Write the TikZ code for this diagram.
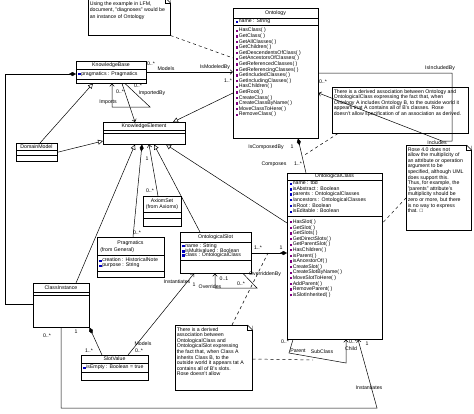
\documentclass[tikz,border=0pt]{standalone}
\usepackage{fontspec}
\setmainfont{Liberation Sans}
\usepackage{tikz}
\usetikzlibrary{arrows.meta,calc}
\newcommand{\attrcolor}{blue!75!black}
\newcommand{\opcolor}{violet}
\newcommand{\fs}{\fontsize{5.2}{5.6}\selectfont}
\newcommand{\attricon}{\textcolor{\attrcolor}{\rule{2.3pt}{2.3pt}}\hspace{0.7pt}}
\newcommand{\opicon}{\textcolor{\opcolor}{\rule{2.3pt}{2.3pt}}\hspace{0.7pt}}
\newcommand{\compline}[2]{\draw (#1.west |- 0,#2) -- (#1.east |- 0,#2);}
\newcommand{\fold}[1]{%
\fill[white] ([xshift=-5pt]#1.north east) -- ([xshift=0.3pt,yshift=0.3pt]#1.north east) -- ([yshift=-5pt]#1.north east) -- cycle;
\draw ([xshift=-5pt]#1.north east) -- ([xshift=-5pt,yshift=-5pt]#1.north east) -- ([yshift=-5pt]#1.north east);
\draw ([xshift=-5pt]#1.north east) -- ([yshift=-5pt]#1.north east);}

\begin{document}
\begin{tikzpicture}[x=1pt,y=-1pt,line width=0.5pt,
  every node/.style={font=\fs},
  umlclass/.style={draw,anchor=north west,inner sep=0pt,fill=white},
  notebox/.style={draw,anchor=north west,inner sep=0pt,fill=white},
  notetext/.style={anchor=north west,inner sep=0pt,align=left},
  row/.style={anchor=west,inner sep=0pt},
  mult/.style={inner sep=0pt},
  gen/.style={-{Triangle[open,length=5pt,width=5pt]}},
  nav/.style={-{Straight Barb[length=2.5pt,width=4.5pt]}},
  comp/.style={{Diamond[length=7pt,width=4pt]}-}]
\useasboundingbox (0,0) rectangle (474,413);

%notes
\node[notebox,minimum width=82pt,minimum height=37pt] (tlnote) at (88,-2) {};
\node[notetext] (tlnotetext) at (89.5,1.5) {Using the example in LFM,\\[0.8pt]document, "diagnoses" would be\\[0.8pt]an instance of Ontology};
\fold{tlnote}
\node[notebox,minimum width=136pt,minimum height=46pt] (mnote) at (332,87) {};
\node[notetext] (mnotetext) at (333.5,89) {There is a derived association between Ontology and\\OntologicalClass expressing the fact that, when\\Ontology A includes Ontology B, to the outside world it\\appears that A contains all of B's classes. Rose\\doesn't allow specification of an association as derived.};
\node[notebox,minimum width=65pt,minimum height=85pt] (rnote) at (406,145) {};
\node[notetext] (rnotetext) at (407.5,147) {Rose 4.0 does not\\allow the multiplicity of\\an attribute or operation\\argument to be\\specified, although UML\\does support this.\\Thus, for example, the\\"parents" attribute's\\multiplicity should be\\zero or more, but there\\is no way to express\\that. □};
\fold{rnote}
\node[notebox,minimum width=77pt,minimum height=65pt] (bnote) at (175,325) {};
\node[notetext] (bnotetext) at (176.5,327) {There is a derived\\association between\\OntologicalClass and\\OntologicalSlot expressing\\the fact that, when Class A\\inherits Class B, to the\\outside world it appears tat A\\contains all of B's slots.\\Rose doesn't allow};
\fold{bnote}

%Ontology
\node[umlclass,minimum width=85pt,minimum height=130pt] (ontology) at (233,8) {};
\node (ontologyname) at (275.5,13) {Ontology};
\compline{ontology}{18}
\compline{ontology}{25}
\node[row] (ontologyattr) at (235.5,21.5) {\attricon name : String};
\foreach \t [count=\i] in {HasClass( ),GetClass( ),GetAllClasses( ),GetChildren( ),GetDescendentsOfClass( ),GetAncestorsOfClasses( ),GetReferencedClasses( ),GetReferencingClasses( ),GetIncludedClasses( ),GetIncludingClasses( ),HasChildren( ),GetRoot( ),CreateClass( ),CreateClassByName( ),MoveClassToHere( ),RemoveClass( )}
  \node[row] (ontologyop\i) at (235.5,25+5.6*\i) {\opicon\t};

%KnowledgeBase
\node[umlclass,minimum width=70pt,minimum height=22pt] (kb) at (76,61) {};
\node (kbname) at (111,65) {KnowledgeBase};
\compline{kb}{69}
\compline{kb}{79}
\node[row] (kbattr) at (78,74) {\attricon pragmatics : Pragmatics};

%DomainModel
\node[umlclass,minimum width=41pt,minimum height=18pt] (dm) at (16,143) {};
\node (dmname) at (36.5,146.5) {DomainModel};
\compline{dm}{150}
\compline{dm}{155}

%KnowledgeElement
\node[umlclass,minimum width=82pt,minimum height=22pt] (ke) at (103,122) {};
\node (kename) at (144,126) {KnowledgeElement};
\compline{ke}{130}
\compline{ke}{133}

%AxiomSet
\node[umlclass,minimum width=38pt,minimum height=30pt] (as) at (143,196) {};
\node (asname) at (162,201) {AxiomSet};
\node (asfrom) at (162,207) {(from Axioms)};
\compline{as}{212}
\compline{as}{218}

%Pragmatics
\node[umlclass,minimum width=67pt,minimum height=40pt] (pr) at (97,237) {};
\node (prname) at (130.5,243) {Pragmatics};
\node[row] (prfrom) at (100,250) {(from General)};
\compline{pr}{255}
\compline{pr}{271}
\node[row] (prattr1) at (99,260) {\attricon creation : HistoricalNote};
\node[row] (prattr2) at (99,265.5) {\attricon purpose : String};

%OntologicalSlot
\node[umlclass,minimum width=71pt,minimum height=41pt] (os) at (180,232) {};
\node (osname) at (215.5,237) {OntologicalSlot};
\compline{os}{242}
\compline{os}{260}
\foreach \t [count=\i] in {name : String,isMultivalued : Boolean,class : OntologicalClass}
  \node[row] (osattr\i) at (182,241.5+4.6*\i) {\attricon\t};

%OntologicalClass
\node[umlclass,minimum width=95pt,minimum height=166pt] (oc) at (287,173) {};
\node (ocname) at (334.5,176.5) {OntologicalClass};
\compline{oc}{180}
\compline{oc}{216}
\foreach \t [count=\i] in {name : tbd,isAbstract : Boolean,parents : OntologicalClasses,/ancestors : OntologicalClasses,isRoot : Boolean,isEditable : Boolean}
  \node[row] (ocattr\i) at (289.5,177.5+5.6*\i) {\attricon\t};
\foreach \t [count=\i] in {HasSlot( ),GetSlot( ),GetSlots( ),GetDirectSlots( ),GetParentSlot( ),HasChildren( ),isParent( ),isAncestorOf( ),CreateSlot( ),CreateSlotByName( ),MoveSlotToHere( ),AddParent( ),RemoveParent( ),isSlotInherited( )}
  \node[row] (ocop\i) at (289.5,216.5+5.6*\i) {\opicon\t};

%ClassInstance
\node[umlclass,minimum width=56pt,minimum height=44pt] (ci) at (33,283) {};
\node (ciname) at (61,287.5) {ClassInstance};
\compline{ci}{292}
\compline{ci}{295}

%SlotValue
\node[umlclass,minimum width=67pt,minimum height=25pt] (sv) at (81,355) {};
\node (svname) at (114.5,359) {SlotValue};
\compline{sv}{363}
\compline{sv}{372}
\node[row] (svattr) at (83,367.5) {\attricon isEmpty : Boolean = true};

%connectors
\draw[dashed] (tlnote.south east) -- (ontology.west |- 0,58);
\draw[comp] (kb.west |- 0,74) -- (5,74) -- (5,304) -- (ci.west |- 0,304);
\draw[nav] (kb.east |- 0,72) -- (ontology.west |- 0,72);
\draw[nav] (kb.south -| 125,0) -- (150,107) -- (112,107) -- (kb.south -| 112,0);
\draw[nav] (kb.south -| 122,0) -- (ke.north -| 135,0);
\draw[gen] (dm.north -| 40,0) -- (kb.south -| 93,0);
\draw[gen] (dm.east) -- (ke.west |- 0,141);
\draw[gen] (ontology.west |- 0,93) -- (ke.north -| 173,0);
\draw[gen] (ci.north -| 76,0) -- (ke.south -| 135,0);
\draw[comp] (ke.south -| 142,0) -- (pr.north -| 133,0);
\draw[nav] (as.north -| 158,0) -- (ke.south -| 149,0);
\draw[gen] (os.north -| 200,0) -- (ke.south -| 154,0);
\draw[gen] (oc.west |- 0,223) -- (ke.south -| 166,0);
\draw[comp] (oc.west |- 0,253) -- (os.east |- 0,253);
\draw[nav] (os.south -| 243,0) -- (257,288) -- (215,288) -- (os.south -| 215,0);
\draw[nav] (sv.north -| 128,0) -- (os.south -| 194,0);
\draw[comp] (ci.south east) -- (sv.north -| 102,0);
\draw[nav] (ci.south -| 61,0) -- (61,408) -- (377,408) -- (oc.south -| 358,0);
\draw[nav] (oc.south -| 293,0) -- (289,353) -- (346,363) -- (oc.south -| 346,0);
\draw[comp] (ontology.south -| 298,0) -- (oc.north -| 306,0);
\draw[nav] (ontology.east |- 0,73) -- (452,73) -- (452,141) -- (442,141) -- (ontology.east |- 0,93);

%note links
\coordinate (compmid) at (303,156);
\coordinate (slotmid) at (268,253);
\coordinate (subclassmid) at (313,360);
\draw[dashed] (mnote.south -| 338,0) -- (compmid);
\draw[dashed] (rnote.west |- 0,198) -- (oc.east |- 0,223);
\draw[dashed] (bnote.north -| 232,0) -- (slotmid);
\draw[dashed] (bnote.east |- 0,359) -- (subclassmid);

%labels
\node[mult] (l1) at (151,64) {0..*};
\node[mult] (l2) at (166,69) {Models};
\node[mult] (l3) at (215,67) {IsModeledBy};
\node[mult] (l4) at (228,81) {1..*};
\node[mult] (l5) at (138,86) {0..*};
\node[mult] (l6) at (152,93) {ImportedBy};
\node[mult] (l7) at (108,102) {Imports};
\node[mult] (l8) at (120,92) {0..*};
\node[mult] (l9) at (150,191) {0..*};
\node[mult] (l10) at (147,159) {1};
\node[mult] (l11) at (137,233) {0..*};
\node[mult] (l12) at (258,248) {1..*};
\node[mult] (l13) at (281,248) {1};
\node[mult] (l14) at (224,279) {0..1};
\node[mult] (l15) at (210,287) {Overrides};
\node[mult] (l16) at (241,284) {0..*};
\node[mult] (l17) at (265,274) {OverriddenBy};
\node[mult] (l18) at (177,282) {Instantiates};
\node[mult] (l19) at (194,285) {1};
\node[mult] (l20) at (143,344) {Models};
\node[mult] (l21) at (139,351) {0..*};
\node[mult] (l22) at (76,332) {1};
\node[mult] (l23) at (89,351) {1..*};
\node[mult] (l24) at (47,336) {0..*};
\node[mult] (l25) at (369,388) {Instantiates};
\node[mult] (l26) at (367,344) {1};
\node[mult] (l27) at (285,342) {0..*};
\node[mult] (l28) at (298,351) {Parent};
\node[mult] (l29) at (322,352) {SubClass};
\node[mult] (l30) at (353,342) {0..*};
\node[mult] (l31) at (351,349) {Child};
\node[mult] (l32) at (266,147) {IsComposedBy};
\node[mult] (l33) at (292,147) {1};
\node[mult] (l34) at (274,164) {Composes};
\node[mult] (l35) at (298,164) {1..*};
\node[mult] (l36) at (323,82) {0..*};
\node[mult] (l37) at (437,143) {Includes};
\node[mult] (l38) at (440,68) {IsIncludedBy};
\end{tikzpicture}
\end{document}
